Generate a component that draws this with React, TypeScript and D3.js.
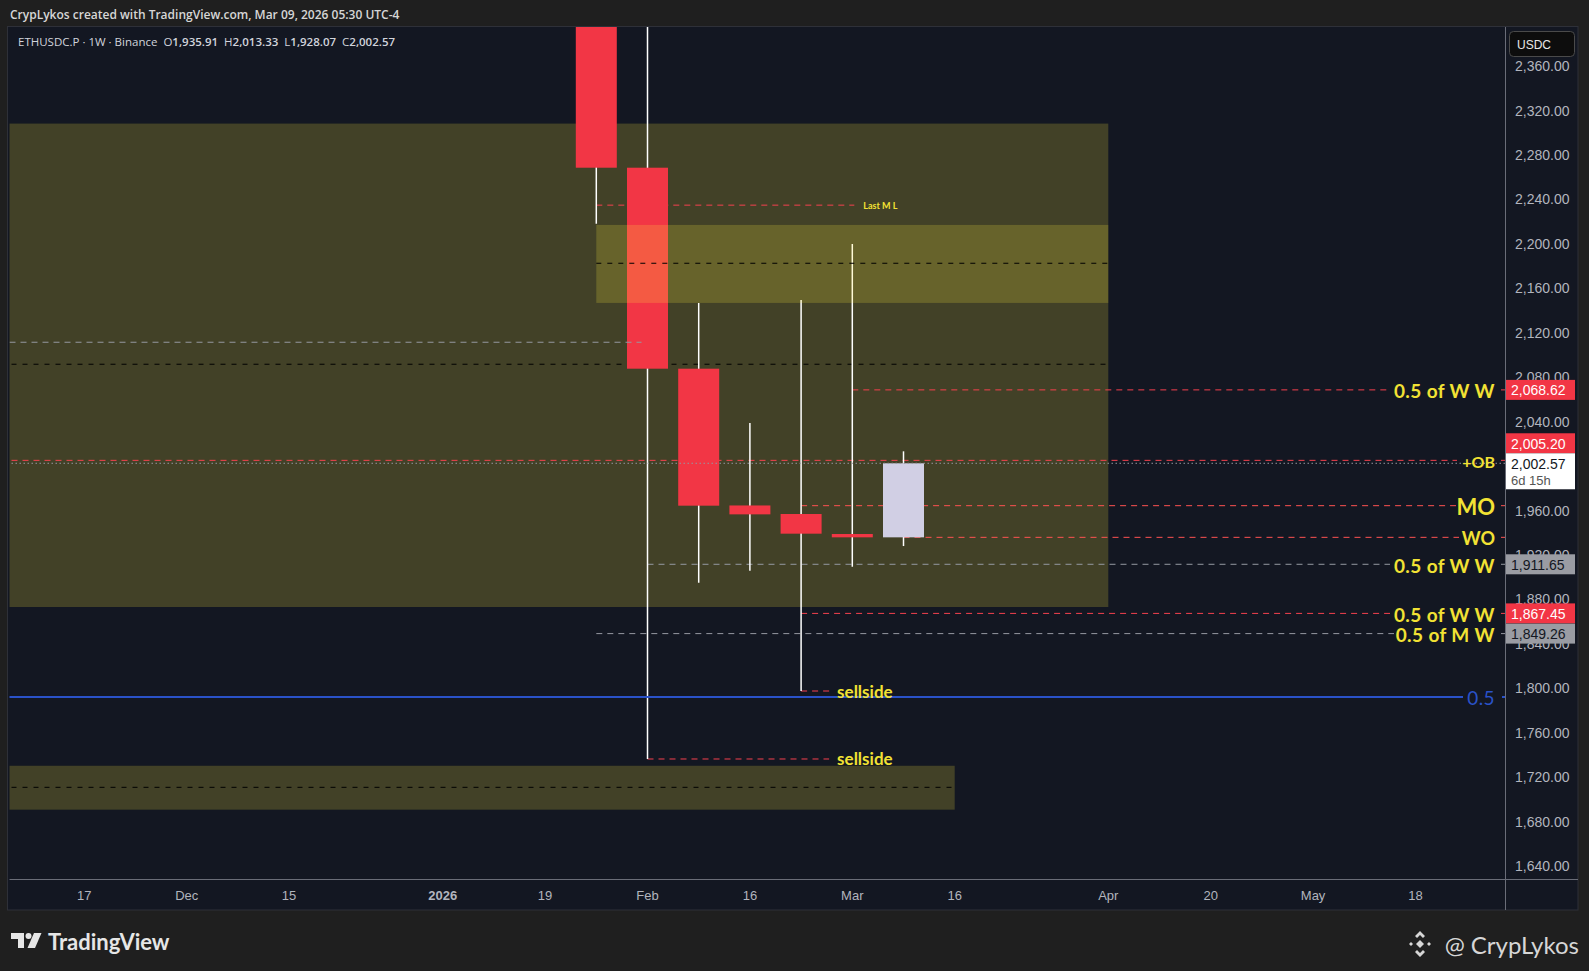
import React from 'react';
import * as d3 from 'd3';

const W = 1589;
const H = 971;

// ---- data ----
const candleDates = ['2026-01-26', '2026-02-02', '2026-02-09', '2026-02-16', '2026-02-23', '2026-03-02', '2026-03-09'];
const opens = [2820, 2268.6, 2087.7, 1964.6, 1956.9, 1938.9, 1935.91];
const highs = [3050, 2480, 2146.9, 2038.9, 2149.6, 2199.9, 2013.33];
const lows = [2218.2, 1736.4, 1895.1, 1905.9, 1797.6, 1909.5, 1928.07];
const closes = [2268.6, 2087.7, 1964.4, 1956.6, 1939.2, 1935.91, 2002.57];

const priceTicks = [1640, 1680, 1720, 1760, 1800, 1840, 1880, 1920, 1960, 2000, 2040, 2080, 2120, 2160, 2200, 2240, 2280, 2320, 2360];
const timeTickDates = ['2025-11-17', '2025-12-01', '2025-12-15', '2026-01-05', '2026-01-19', '2026-02-02', '2026-02-16', '2026-03-02', '2026-03-16', '2026-04-06', '2026-04-20', '2026-05-04', '2026-05-18'];
const timeTickLabels = ['17', 'Dec', '15', '2026', '19', 'Feb', '16', 'Mar', '16', 'Apr', '20', 'May', '18'];

// zones: [top, bottom, start, end]
const zoneTops = [2308.3, 1730.3];
const zoneBottoms = [1873.2, 1690.8];
const zoneStarts = ['2025-10-20', '2025-10-20'];
const zoneEnds = ['2026-04-06', '2026-03-16'];
const hotZone = { top: 2217.1, bottom: 2146.9, start: '2026-01-26', end: '2026-04-06' };

// right-labelled levels
const levelPrices = [2068.62, 2005.2, 1964.4, 1935.91, 1911.65, 1867.45, 1849.26, 1792.3];
const levelStarts = ['2026-03-02', '2025-10-20', '2026-02-23', '2026-03-09', '2026-02-02', '2026-02-23', '2026-01-26', '2025-10-20'];
const levelLabels = ['0.5 of W W', '+OB', 'MO', 'WO', '0.5 of W W', '0.5 of W W', '0.5 of M W', '0.5'];

const sellsidePrices = [1797.6, 1736.4];
const sellsideStarts = ['2026-02-23', '2026-02-02'];

const lastML = { price: 2234.9, start: '2026-01-26', end: '2026-03-02' };
const blackLinePrices = [2182.6, 2091.7, 1710.9];
const blackLineStarts = ['2026-01-26', '2025-10-20', '2025-10-20'];
const blackLineEnds = ['2026-04-06', '2026-04-06', '2026-03-16'];
const grayOldPrice = 2111.5;
const grayOldEnd = '2026-02-02';

const lastPrice = 2002.57;
const tagPrices = [2068.62, 2005.2, 1911.65, 1867.45, 1849.26];
const tagKinds = ['red', 'red', 'gray', 'red', 'gray'];

const ohlc = { o: '1,935.91', h: '2,013.33', l: '1,928.07', c: '2,002.57' };

// ---- layout ----
const PLOT_L = 9.5;
const PLOT_R = 1505.5;
const PLOT_T = 27;
const PLOT_B = 879.5;
const AXIS_B = 910;
const PANEL_R = 1578;

const RED = '#F23645';
const LINE_RED = '#F5414F';
const YELLOW = '#F2E234';
const GRAY_LINE = '#9598A1';
const BLUE = '#2A52C9';
const AXIS_TXT = '#B2B5BE';
const LBL_FONT = 'Lato, "Open Sans", sans-serif';
const AX_FONT = '"Liberation Sans", Arial, sans-serif';

const d = (s: string) => new Date(s + 'T00:00:00Z');

const x = d3.scaleUtc().domain([d('2026-02-02'), d('2026-03-09')]).range([647.5, 903.5]);
const y = d3.scaleLinear().domain([1640, 2320]).range([866.1, 110.6]);

const bodyW = 41;
const fmt = d3.format(',.2f');

const LABEL_R = 1495;

export default function App() {
  const candles = candleDates.map((dt, i) => ({
    x: x(d(dt)),
    o: opens[i], h: highs[i], l: lows[i], c: closes[i],
  }));

  const levelStyle = [
    { color: LINE_RED, dash: '6 5', size: 19, weight: 700, textColor: YELLOW, ls: 0.4 },
    { color: LINE_RED, dash: '6 5', size: 16, weight: 700, textColor: YELLOW, ls: 0 },
    { color: '#FF5252', dash: '6 5', size: 22, weight: 700, textColor: YELLOW, ls: 0 },
    { color: '#FF5252', dash: '6 5', size: 18, weight: 700, textColor: YELLOW, ls: 0 },
    { color: GRAY_LINE, dash: '6 5', size: 19, weight: 700, textColor: YELLOW, ls: 0.4 },
    { color: LINE_RED, dash: '6 5', size: 19, weight: 700, textColor: YELLOW, ls: 0.4 },
    { color: GRAY_LINE, dash: '6 5', size: 19, weight: 700, textColor: YELLOW, ls: 0.4 },
    { color: BLUE, dash: '', size: 19, weight: 400, textColor: BLUE, ls: 0.4, width: 2 },
  ];
  const labelWidths = [99, 32, 33, 30, 99, 99, 95, 28];

  // tag layout on axis
  const curY = y(lastPrice);
  const curTop = curY - 10;
  const curBot = curY + 26;
  const tags = tagPrices.map((p, i) => {
    let cy = y(p);
    if (cy + 10 > curTop && cy - 10 < curBot) cy = curTop - 10;
    return { p, cy, kind: tagKinds[i] };
  });

  const sellEnd = x(d('2026-02-23')) + 28;

  return (
    <svg width={W} height={H} style={{ display: 'block', position: 'absolute', left: 0, top: 0 }}>
      <defs>
        <clipPath id="plot">
          <rect x={PLOT_L} y={PLOT_T} width={PLOT_R - PLOT_L} height={PLOT_B - PLOT_T} />
        </clipPath>
      </defs>
      <rect width={W} height={H} fill="#1F1F1F" />
      {/* header */}
      <text x={10} y={19} fill="#D6D6D6" fontSize={12} fontFamily='"Open Sans", sans-serif' fontWeight={600}>
        CrypLykos created with TradingView.com, Mar 09, 2026 05:30 UTC-4
      </text>
      {/* panel */}
      <rect x={7.5} y={26.5} width={PANEL_R - 7.5} height={AXIS_B - 26.5} fill="#131722" stroke="#2E3038" />

      <g clipPath="url(#plot)">
        {/* base zones */}
        {zoneTops.map((t, i) => (
          <rect key={'z' + i} x={x(d(zoneStarts[i]))} y={y(t)} width={x(d(zoneEnds[i])) - x(d(zoneStarts[i]))}
            height={y(zoneBottoms[i]) - y(t)} fill="rgba(255,236,59,0.2)" />
        ))}
        {/* lines under candles */}
        {blackLinePrices.slice(1).map((p, j) => {
          const i = j + 1;
          return <line key={'bl' + i} x1={x(d(blackLineStarts[i]))} x2={x(d(blackLineEnds[i]))} y1={y(p)} y2={y(p)}
            stroke="#000" strokeDasharray="5 6" />;
        })}
        <line x1={x(d(lastML.start))} x2={x(d(lastML.end)) + 2} y1={y(lastML.price)} y2={y(lastML.price)}
          stroke={LINE_RED} strokeDasharray="6 5" />
        {levelPrices.map((p, i) => {
          const st = levelStyle[i];
          if (st.dash === '') return null;
          const tStart = LABEL_R - labelWidths[i];
          return (
            <g key={'lv' + i}>
              <line x1={x(d(levelStarts[i]))} x2={tStart - 6} y1={y(p)} y2={y(p)} stroke={st.color} strokeDasharray={st.dash} />
              <line x1={LABEL_R + 6} x2={PLOT_R} y1={y(p)} y2={y(p)} stroke={st.color} strokeDasharray="4 4" />
            </g>
          );
        })}
        {sellsidePrices.map((p, i) => (
          <line key={'ss' + i} x1={x(d(sellsideStarts[i]))} x2={sellEnd} y1={y(p)} y2={y(p)} stroke={LINE_RED} strokeDasharray="6 5" />
        ))}

        {/* candles */}
        {candles.map((c, i) => {
          const up = c.c >= c.o;
          const top = y(Math.max(c.o, c.c));
          const bot = y(Math.min(c.o, c.c));
          return (
            <g key={'c' + i}>
              <line x1={c.x} x2={c.x} y1={y(c.h)} y2={y(c.l)} stroke="#FFFFFF" strokeWidth={1.5} />
              <rect x={c.x - bodyW / 2} y={top} width={bodyW} height={Math.max(1, bot - top)} fill={up ? '#D1CFE4' : RED} />
            </g>
          );
        })}

        {/* overlay zone */}
        <rect x={x(d(hotZone.start))} y={y(hotZone.top)} width={x(d(hotZone.end)) - x(d(hotZone.start))}
          height={y(hotZone.bottom) - y(hotZone.top)} fill="rgba(255,236,59,0.2)" />
        <line x1={x(d(blackLineStarts[0]))} x2={x(d(blackLineEnds[0]))} y1={y(blackLinePrices[0])} y2={y(blackLinePrices[0])}
          stroke="#000" strokeDasharray="5 6" />
        {/* older gray level */}
        <line x1={PLOT_L} x2={x(d(grayOldEnd)) - 6} y1={y(grayOldPrice)} y2={y(grayOldPrice)} stroke={GRAY_LINE} strokeDasharray="6 5" />
        {/* current price dotted */}
        <line x1={PLOT_L + 2} x2={PLOT_R} y1={y(lastPrice)} y2={y(lastPrice)} stroke="#9598A1" strokeDasharray="1.5 2.5" />
        {/* blue level */}
        {levelPrices.map((p, i) => {
          const st = levelStyle[i];
          if (st.dash !== '') return null;
          const tStart = LABEL_R - labelWidths[i];
          return (
            <g key={'lb' + i}>
              <line x1={x(d(levelStarts[i]))} x2={tStart - 4} y1={y(p)} y2={y(p)} stroke={st.color} strokeWidth={2} />
              <line x1={LABEL_R + 7} x2={PLOT_R} y1={y(p)} y2={y(p)} stroke={st.color} strokeWidth={2} />
            </g>
          );
        })}

        {/* labels */}
        <text x={x(d(lastML.end)) + 11} y={y(lastML.price)} dominantBaseline="central" fill={YELLOW}
          fontSize={9} fontWeight={700} fontFamily={LBL_FONT}>Last M L</text>
        {sellsidePrices.map((p, i) => (
          <text key={'sst' + i} x={sellEnd + 8} y={y(p)} dominantBaseline="central" fill={YELLOW}
            fontSize={17} fontWeight={700} fontFamily={LBL_FONT}>sellside</text>
        ))}
        {levelPrices.map((p, i) => {
          const st = levelStyle[i];
          return (
            <text key={'lt' + i} x={LABEL_R} y={y(p) + 1} textAnchor="end" dominantBaseline="central" fill={st.textColor}
              fontSize={st.size} fontWeight={st.weight} fontFamily={LBL_FONT} letterSpacing={st.ls}>
              {levelLabels[i]}
            </text>
          );
        })}
      </g>

      {/* legend */}
      <text x={18} y={45.5} fill="#D1D4DC" fontSize={11.5} fontFamily='"Open Sans", sans-serif'>
        <tspan>ETHUSDC.P · 1W · Binance</tspan>
        <tspan dx={6}>O</tspan><tspan fontWeight={600}>{ohlc.o}</tspan>
        <tspan dx={6}>H</tspan><tspan fontWeight={600}>{ohlc.h}</tspan>
        <tspan dx={6}>L</tspan><tspan fontWeight={600}>{ohlc.l}</tspan>
        <tspan dx={6}>C</tspan><tspan fontWeight={600}>{ohlc.c}</tspan>
      </text>

      {/* axes separators */}
      <line x1={PLOT_R} x2={PLOT_R} y1={PLOT_T} y2={AXIS_B} stroke="#6A6D78" />
      <line x1={PLOT_L} x2={PANEL_R} y1={PLOT_B} y2={PLOT_B} stroke="#6A6D78" />

      {/* price axis */}
      {priceTicks.map((p) => (
        <text key={'pt' + p} x={1515} y={y(p)} dominantBaseline="central" fill={AXIS_TXT} fontSize={14} fontFamily={AX_FONT}>
          {fmt(p)}
        </text>
      ))}
      {/* USDC box */}
      <rect x={1509.5} y={31.5} width={65} height={25} rx={4} fill="#0D0D0D" stroke="#4A4A4A" />
      <text x={1517} y={44.5} dominantBaseline="central" fill="#E8E8E8" fontSize={12} fontFamily={AX_FONT}>USDC</text>

      {/* tags */}
      {tags.map((t, i) => (
        <g key={'tag' + i}>
          <rect x={1506} y={t.cy - 10} width={69} height={20} fill={t.kind === 'red' ? RED : '#9A9CA3'} />
          <text x={1511} y={t.cy + 0.5} dominantBaseline="central" fill={t.kind === 'red' ? '#FFFFFF' : '#131722'}
            fontSize={14} fontFamily={AX_FONT}>{fmt(t.p)}</text>
        </g>
      ))}
      <rect x={1506} y={curTop} width={69} height={curBot - curTop} fill="#FFFFFF" />
      <text x={1511} y={curY + 0.5} dominantBaseline="central" fill="#131722" fontSize={14} fontFamily={AX_FONT}>{fmt(lastPrice)}</text>
      <text x={1511} y={curY + 17} dominantBaseline="central" fill="#555" fontSize={13} fontFamily={AX_FONT}>6d 15h</text>

      {/* time axis */}
      {timeTickDates.map((t, i) => (
        <text key={'tt' + i} x={x(d(t))} y={895} textAnchor="middle" dominantBaseline="central" fill={AXIS_TXT}
          fontSize={13} fontWeight={timeTickLabels[i] === '2026' ? 700 : 400} fontFamily={AX_FONT}>{timeTickLabels[i]}</text>
      ))}

      {/* footer: TradingView logo */}
      <g fill="#E6E6E6">
        <path d="M11 933 h13 v15 h-6 v-9 h-7 z" />
        <circle cx={28.5} cy={936} r={3} />
        <path d="M34 933 h7.5 l-6.5 15 h-7.5 z" />
      </g>
      <text x={48} y={941} dominantBaseline="central" fill="#E6E6E6" fontSize={22} fontWeight={700} fontFamily={LBL_FONT}>TradingView</text>

      {/* footer: author */}
      <g transform="translate(1420,944)" fill="#D6D6D6">
        <path d="M0 -13 L5 -8 L3 -6 L0 -9 L-3 -6 L-5 -8 Z" />
        <path d="M0 13 L5 8 L3 6 L0 9 L-3 6 L-5 8 Z" />
        <path d="M0 -4 L4 0 L0 4 L-4 0 Z" />
        <path d="M-9 -2 L-7 0 L-9 2 L-11 0 Z" />
        <path d="M9 -2 L11 0 L9 2 L7 0 Z" />
      </g>
      <text x={1579} y={944} textAnchor="end" dominantBaseline="central" fill="#D6D6D6" fontSize={24} fontFamily={LBL_FONT}>@ CrypLykos</text>
    </svg>
  );
}
